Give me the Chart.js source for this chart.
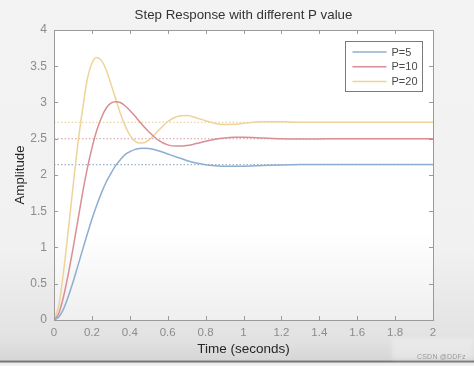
<!DOCTYPE html>
<html>
<head>
<meta charset="utf-8">
<script src="https://cdn.jsdelivr.net/npm/chart.js@4/dist/chart.umd.min.js"></script>
<style>
  html, body { margin: 0; padding: 0; }
  body {
    width: 474px; height: 366px; overflow: hidden; position: relative;
    background: linear-gradient(to bottom, #f3f3f3 0px, #f1f1f1 250px, #e2e2e2 340px, #d6d6d6 360px, #808080 361px, #707070 362px, #ececec 363px, #f2f2f2 366px);
    font-family: "Liberation Sans", Arial, sans-serif;
  }
  #c { position: absolute; left: 0; top: 0; }
  #haze { position: absolute; left: 392px; top: 338px; width: 82px; height: 21px;
    background: rgba(240,240,240,0.55); filter: blur(2px); }
  #wm { position: absolute; left: 417px; top: 353px; font-size: 7px; color: #9a9a9a; letter-spacing: 0.2px; }
</style>
</head>
<body>
<canvas id="c" width="474" height="366"></canvas>
<div id="haze"></div>
<div id="wm">CSDN @DDFz</div>
<script>
// ---- data ----
const times = [0,0.025,0.05,0.075,0.1,0.125,0.15,0.175,0.2,0.225,0.25,0.275,0.3,0.325,0.35,0.375,0.4,0.425,0.45,0.475,0.5,
  0.55,0.6,0.65,0.7,0.75,0.8,0.85,0.9,0.95,1.0,1.1,1.2,1.3,1.4,1.5,1.6,1.7,1.8,1.9,2.0];
const seriesLabels = ['P=5', 'P=10', 'P=20'];
const p5 = [0,0.04,0.15,0.32,0.52,0.74,0.96,1.18,1.39,1.58,1.75,1.90,2.02,2.13,2.21,2.28,2.32,2.35,2.365,2.37,2.365,
  2.335,2.29,2.245,2.20,2.165,2.142,2.128,2.12,2.119,2.121,2.13,2.139,2.144,2.145,2.143,2.143,2.143,2.143,2.143,2.143];
const p10 = [0,0.09,0.32,0.63,0.98,1.36,1.74,2.08,2.37,2.61,2.79,2.92,2.99,3.01,3.0,2.955,2.89,2.82,2.74,2.665,2.595,
  2.48,2.415,2.398,2.405,2.433,2.465,2.493,2.511,2.52,2.521,2.511,2.501,2.496,2.497,2.5,2.5,2.5,2.5,2.5,2.5];
const p20 = [0,0.2,0.66,1.23,1.83,2.41,2.89,3.31,3.54,3.62,3.58,3.45,3.26,3.05,2.85,2.68,2.55,2.47,2.44,2.445,2.48,
  2.61,2.736,2.807,2.82,2.79,2.747,2.711,2.697,2.699,2.713,2.735,2.734,2.726,2.726,2.727,2.727,2.727,2.727,2.727,2.727];
const steadyStates = [2.143, 2.5, 2.727];
const xRange = [0, 2];
const yRange = [0, 4];
const xStep = 0.2;
const yStep = 0.5;

// ---- styling ----
const colors = ['#8eaecf', '#d98e94', '#eed498'];
const dotColors = ['#9fb2c6', '#d49aa0', '#e3cb94'];
const FONT = '"Liberation Sans", Arial, Helvetica, sans-serif';
const fmt = v => String(Math.round(v * 1000) / 1000);

const allSeries = [p5, p10, p20];
const datasets = [];
allSeries.forEach((s, i) => {
  datasets.push({
    label: seriesLabels[i],
    data: times.map((t, k) => ({ x: t, y: s[k] })),
    borderColor: colors[i], borderWidth: 1.5, pointRadius: 0,
    cubicInterpolationMode: 'monotone', fill: false, order: 1
  });
});
steadyStates.forEach((v, i) => {
  datasets.push({
    label: '_ss' + i,
    data: [{ x: xRange[0], y: v }, { x: xRange[1], y: v }],
    borderColor: dotColors[i], borderWidth: 1.2, borderDash: [1.5, 2],
    pointRadius: 0, fill: false, order: 2
  });
});

const framePlugin = {
  id: 'frame',
  beforeDatasetsDraw(chart) {
    const { ctx, chartArea: a } = chart;
    ctx.save();
    const g = ctx.createLinearGradient(0, a.top, 0, a.bottom);
    g.addColorStop(0, '#ffffff');
    g.addColorStop(0.7, '#ffffff');
    g.addColorStop(1, '#efefef');
    ctx.fillStyle = g;
    ctx.fillRect(a.left, a.top, a.right - a.left, a.bottom - a.top);
    ctx.restore();
  },
  afterDatasetsDraw(chart) {
    const { ctx, chartArea: a, scales } = chart;
    ctx.save();
    ctx.strokeStyle = '#9a9a9a';
    ctx.lineWidth = 1;
    ctx.strokeRect(Math.round(a.left) + 0.5, Math.round(a.top) + 0.5,
      Math.round(a.right - a.left), Math.round(a.bottom - a.top));
    const tl = 4;
    ctx.beginPath();
    scales.x.ticks.forEach(t => {
      const x = Math.round(scales.x.getPixelForValue(t.value)) + 0.5;
      ctx.moveTo(x, a.bottom); ctx.lineTo(x, a.bottom - tl);
      ctx.moveTo(x, a.top); ctx.lineTo(x, a.top + tl);
    });
    scales.y.ticks.forEach(t => {
      const y = Math.round(scales.y.getPixelForValue(t.value)) + 0.5;
      ctx.moveTo(a.left, y); ctx.lineTo(a.left + tl, y);
      ctx.moveTo(a.right, y); ctx.lineTo(a.right - tl, y);
    });
    ctx.stroke();

    // legend
    const bw = 77, bh = 50;
    const bx = Math.round(a.right - 11 - bw) + 0.5, by = Math.round(a.top + 11) + 0.5;
    ctx.fillStyle = '#ffffff';
    ctx.fillRect(bx, by, bw, bh);
    ctx.strokeStyle = '#7a7a7a';
    ctx.strokeRect(bx, by, bw, bh);
    ctx.font = '11px ' + FONT;
    ctx.textBaseline = 'middle';
    ctx.textAlign = 'left';
    seriesLabels.forEach((lab, i) => {
      const y = by + 10.5 + i * 14.8;
      ctx.strokeStyle = colors[i];
      ctx.lineWidth = 1.5;
      ctx.beginPath();
      ctx.moveTo(bx + 7, y); ctx.lineTo(bx + 41, y);
      ctx.stroke();
      ctx.fillStyle = '#4a4a4a';
      ctx.fillText(lab, bx + 46, y + 0.5);
    });
    ctx.restore();
  }
};

new Chart(document.getElementById('c'), {
  type: 'line',
  data: { datasets },
  options: {
    responsive: false, animation: false, devicePixelRatio: 1,
    layout: { padding: { left: 0, right: 41, top: 0, bottom: 0 } },
    plugins: {
      legend: { display: false },
      tooltip: { enabled: false },
      title: {
        display: true, fullSize: false, text: 'Step Response with different P value',
        color: '#333333', font: { family: FONT, size: 13.3, weight: 'normal' },
        padding: { top: 7.5, bottom: 6.5 }
      }
    },
    scales: {
      x: {
        type: 'linear', min: xRange[0], max: xRange[1],
        ticks: { stepSize: xStep, padding: 6.4, color: '#8c8c8c', font: { family: FONT, size: 11.5 }, callback: v => fmt(v) },
        grid: { display: false, drawTicks: false },
        border: { display: false },
        title: { display: true, text: 'Time (seconds)', color: '#262626',
          font: { family: FONT, size: 13.5 }, padding: { top: 0, bottom: 9 } },
        afterFit: s => { s.height = 46; }
      },
      y: {
        type: 'linear', min: yRange[0], max: yRange[1],
        ticks: { stepSize: yStep, padding: 7, color: '#8c8c8c', font: { family: FONT, size: 12 }, callback: v => fmt(v) },
        grid: { display: false, drawTicks: false },
        border: { display: false },
        title: { display: true, text: 'Amplitude', color: '#262626',
          font: { family: FONT, size: 13.3 }, padding: { top: 12, bottom: 0 } },
        afterFit: s => { s.width = 54; }
      }
    }
  },
  plugins: [framePlugin]
});
</script>
</body>
</html>
